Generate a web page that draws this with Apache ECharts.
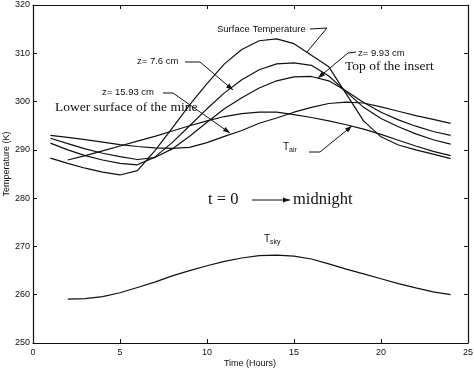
<!DOCTYPE html>
<html>
<head>
<meta charset="utf-8">
<script src="https://cdn.jsdelivr.net/npm/echarts@6/dist/echarts.min.js"></script>
<style>html,body{margin:0;padding:0;background:#fff}#c{width:474px;height:370px}</style>
</head>
<body>
<div id="c"></div>
<script>
// ---- data ----
const hours = [1,2,3,4,5,6,7,8,9,10,11,12,13,14,15,16,17,18,19,20,21,22,23,24];
const hoursAir = [2,3,4,5,6,7,8,9,10,11,12,13,14,15,16,17,18,19,20,21,22,23,24];
const surfaceTemp = [288.3,287.2,286.2,285.4,284.8,285.7,289.8,294.5,299.3,303.7,307.8,310.8,312.6,313.0,312.0,309.6,307.2,301.6,296.0,292.7,291.0,290.0,289.1,288.2];
const z76 = [291.4,290.0,288.8,287.9,287.2,286.9,288.5,291.5,295.0,298.5,301.8,304.5,306.6,307.8,308.0,307.5,305.3,302.0,298.8,296.5,294.8,293.3,292.1,291.2];
const z993 = [292.4,291.3,290.2,289.3,288.6,288.0,288.4,290.2,292.8,295.7,298.5,300.8,302.8,304.3,305.1,305.2,304.3,302.2,299.8,297.8,296.2,294.9,293.8,293.0];
const z1593 = [293.0,292.6,292.1,291.6,291.1,290.7,290.4,290.3,290.5,291.5,292.8,294.0,295.5,296.6,297.8,298.8,299.6,299.9,299.7,298.9,298.0,297.1,296.3,295.5];
const tAir = [287.9,288.8,289.8,290.8,291.8,292.8,293.9,295.0,296.0,296.9,297.5,297.8,297.8,297.3,296.7,296.0,295.2,294.3,293.2,292.0,290.8,289.7,288.8];
const tSky = [259.1,259.2,259.6,260.4,261.5,262.6,263.9,265.0,266.0,266.9,267.6,268.1,268.2,268.0,267.4,266.4,265.3,264.3,263.3,262.3,261.4,260.6,260.0];
const xTicks = [0,5,10,15,20,25];
const yTicks = [250,260,270,280,290,300,310,320];

function pairs(xs, ys){ return xs.map((x,i)=>[x, ys[i]]); }

const chart = echarts.init(document.getElementById('c'), null, {renderer:'canvas'});
const sans = 'Liberation Sans';
const serif = 'Liberation Serif';
const lineStyle = {color:'#111', width:1.2};
function ser(name, xs, ys){
  return {name, type:'line', data:pairs(xs,ys), showSymbol:false, symbol:'none', lineStyle, smooth:false, silent:true, animation:false, z:3};
}
const axisCommon = {
  min:0, max:25, interval:5,
  axisLine:{show:true, onZero:false, lineStyle:{color:'#111', width:1.2}},
  axisTick:{show:true, inside:true, length:4, lineStyle:{color:'#111'}},
  splitLine:{show:false}
};
chart.setOption({
  animation:false,
  backgroundColor:'#fff',
  grid:{left:33, right:6, top:5, bottom:27, containLabel:false, outerBoundsMode:'none'},
  xAxis:[
    Object.assign({type:'value', position:'bottom',
      axisLabel:{fontFamily:sans, fontSize:9, color:'#111', margin:5}}, axisCommon),
    Object.assign({type:'value', position:'top', axisLabel:{show:false}}, axisCommon)
  ],
  yAxis:[
    {type:'value', position:'left', min:250, max:320, interval:10,
      axisLine:{show:true, onZero:false, lineStyle:{color:'#111', width:1.2}},
      axisTick:{show:true, inside:true, length:4, lineStyle:{color:'#111'}},
      splitLine:{show:false},
      axisLabel:{fontFamily:sans, fontSize:9, color:'#111', margin:3}},
    {type:'value', position:'right', min:250, max:320, interval:10,
      axisLine:{show:true, onZero:false, lineStyle:{color:'#111', width:1.2}},
      axisTick:{show:true, inside:true, length:4, lineStyle:{color:'#111'}},
      splitLine:{show:false}, axisLabel:{show:false}}
  ],
  series:[
    ser('Surface Temperature', hours, surfaceTemp),
    ser('z= 7.6 cm', hours, z76),
    ser('z= 9.93 cm', hours, z993),
    ser('z= 15.93 cm', hours, z1593),
    ser('T air', hoursAir, tAir),
    ser('T sky', hoursAir, tSky)
  ]
});

// ---- annotations ----
function arrowHead(x1,y1,x2,y2,len,w){
  const a = Math.atan2(y2-y1, x2-x1);
  const bx = x2 - len*Math.cos(a), by = y2 - len*Math.sin(a);
  const px = -Math.sin(a)*w, py = Math.cos(a)*w;
  return {type:'polygon', shape:{points:[[x2,y2],[bx+px,by+py],[bx-px,by-py]]}, style:{fill:'#111'}, silent:true, z:10};
}
function leader(points, arrow){
  const els = [{type:'polyline', shape:{points}, style:{stroke:'#111', lineWidth:1, fill:null}, silent:true, z:10}];
  if (arrow){
    const n = points.length;
    els.push(arrowHead(points[n-2][0],points[n-2][1],points[n-1][0],points[n-1][1],7,2.5));
  }
  return els;
}
function txt(x,y,text,font,size,align){
  return {type:'text', x, y, style:{text, font: size+'px "'+font+'"', fill:'#111', textAlign:align||'left', textVerticalAlign:'middle'}, silent:true, z:10};
}
const g = [];
// axis titles
g.push(txt(250,364,'Time (Hours)',sans,9,'center'));
g.push({type:'text', x:7, y:164, rotation:Math.PI/2, style:{text:'Temperature (K)', font:'9px "'+sans+'"', fill:'#111', textAlign:'center', textVerticalAlign:'middle'}, silent:true, z:10});
g.push(txt(217,29,'Surface Temperature',sans,9.5));
g.push(...leader([[310,29],[327,28],[307,52]], false));
g.push(txt(137,61,'z= 7.6 cm',sans,9.5));
g.push(...leader([[185,62],[200,62],[233,90]], true));
g.push(txt(102,92,'z= 15.93 cm',sans,9.5));
g.push(...leader([[163,93],[173,93],[230,133]], true));
g.push(txt(55,107,'Lower surface of the mine',serif,13.5));
g.push(txt(358,53,'z= 9.93 cm',sans,9.5));
g.push(...leader([[356,52],[348,53],[318,78]], true));
g.push(txt(345,66,'Top of the insert',serif,13.5));
g.push({type:'text', x:283, y:147, style:{text:'{a|T}{b|air}', rich:{a:{fontFamily:sans, fontSize:10, fill:'#111'}, b:{fontFamily:sans, fontSize:7, fill:'#111', padding:[6,0,0,0]}}, textVerticalAlign:'middle'}, silent:true, z:10});
g.push(...leader([[309,152],[320,152],[352,126]], true));
g.push({type:'text', x:264, y:239, style:{text:'{a|T}{b|sky}', rich:{a:{fontFamily:sans, fontSize:10, fill:'#111'}, b:{fontFamily:sans, fontSize:7, fill:'#111', padding:[6,0,0,0]}}, textVerticalAlign:'middle'}, silent:true, z:10});
g.push(txt(208,200,'t = 0',serif,16.5));
g.push(...leader([[252,200],[290,200]], true));
g.push(txt(293,200,'midnight',serif,16.5));
chart.setOption({graphic:g});
</script>
</body>
</html>
